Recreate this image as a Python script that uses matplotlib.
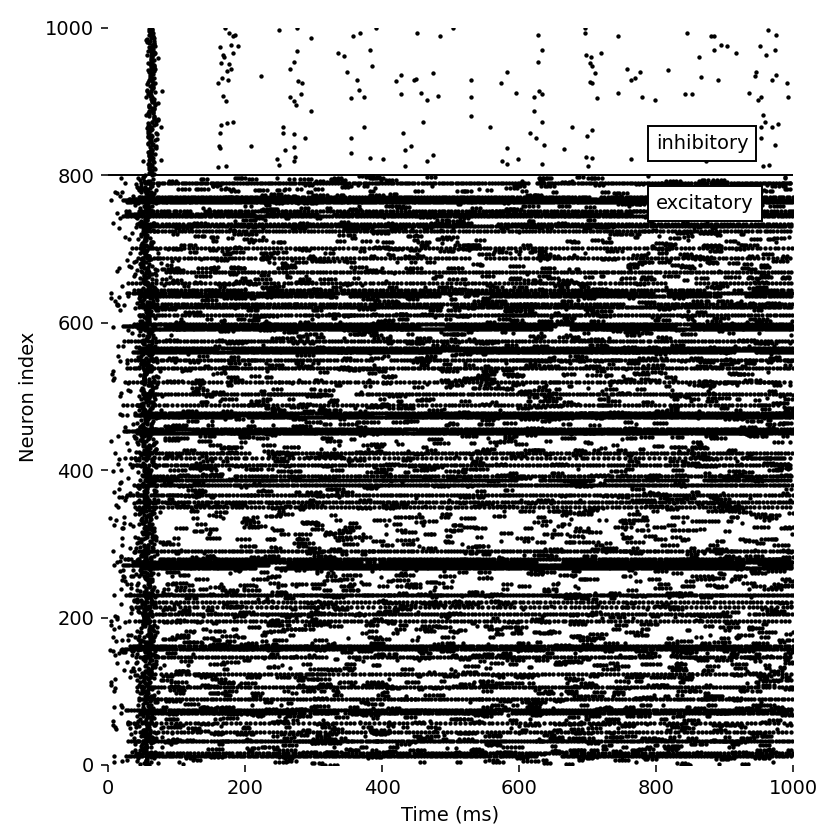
import numpy as np
import matplotlib.pyplot as plt

n_exc, n_inh = 800, 200
t_end = 1000

tonic_rows = [12, 16, 33, 45, 57, 70, 74, 90, 106, 124, 147, 158, 162, 195, 205, 214, 221, 231,
              267, 271, 275, 279, 291, 350, 357, 366, 380, 386, 392, 407, 416, 423, 450, 453, 456,
              472, 475, 478, 488, 504, 520, 538, 549, 561, 563, 566, 575, 592, 595, 598, 610, 622,
              626, 636, 640, 644, 654, 669, 688, 701, 725, 731, 734, 745, 748, 751, 764, 766, 768,
              770, 789]
tonic_isi = [4, 5, 4, 6, 7, 4, 4, 5, 5, 6, 5, 4, 4, 6, 5, 7, 6, 4,
             3, 3, 3, 4, 5, 6, 5, 5, 4, 4, 5, 5, 7, 5, 3, 3, 4,
             3, 3, 4, 6, 5, 6, 5, 5, 3, 3, 4, 5, 3, 3, 4, 5, 4,
             5, 4, 4, 5, 6, 5, 6, 6, 5, 4, 5, 4, 4, 5, 3, 3, 3,
             4, 4]

# sparse inhibitory spikes after the onset volley (time ms, neuron index)
inh_t = [171, 177, 183, 186, 180, 190, 163, 168, 169, 182, 165, 177, 180, 174, 160, 166, 175, 168,
         172, 165, 173, 183, 163, 162, 164, 160, 172, 79, 78, 77, 223, 209,
         250, 276, 296, 276, 272, 266, 278, 283, 282, 265, 272, 275, 296, 255, 256, 272, 288, 259,
         272, 273, 271, 246, 250,
         335, 344, 357, 368, 391, 383, 386, 349, 364, 367, 355, 373, 373, 354, 355, 382, 402,
         451, 484, 475, 427, 420, 446, 449, 428, 457, 465, 481, 460, 431, 433, 443, 474, 465, 433,
         503, 628, 634, 628, 530, 530, 530, 574, 582, 595, 622, 629, 634, 622, 634, 557, 616, 625,
         636, 582, 575, 582, 598, 634, 666, 678,
         697, 697, 720, 698, 705, 704, 706, 711, 704, 707, 714, 707, 699, 698, 706, 701,
         745, 745, 758, 763, 769, 776, 780, 799, 764, 791, 817, 838, 845, 843, 852, 866, 863,
         880, 885, 885, 895, 904, 916, 890, 873, 936, 944, 946, 952, 961, 973, 964, 975, 970, 975,
         991, 993, 949, 953, 956, 959, 953, 970, 978, 953, 974, 956, 965]
inh_i = [1000, 993, 989, 990, 977, 976, 974, 963, 960, 966, 952, 951, 945, 942, 925, 932, 929, 908,
         901, 869, 871, 873, 857, 840, 837, 812, 813, 915, 821, 866, 935, 840,
         997, 1000, 986, 969, 954, 944, 928, 925, 911, 907, 901, 896, 887, 866, 857, 856, 851, 835,
         838, 825, 819, 822, 814,
         966, 962, 989, 993, 1000, 970, 948, 940, 929, 916, 905, 907, 866, 851, 830, 824, 822,
         993, 989, 939, 936, 928, 929, 931, 910, 912, 902, 908, 873, 857, 835, 840, 828, 820, 813,
         1000, 991, 970, 954, 929, 906, 881, 925, 940, 912, 906, 915, 910, 887, 873, 866, 858, 851,
         841, 837, 819, 815, 822, 815, 836, 866,
         1000, 993, 966, 963, 960, 952, 948, 939, 927, 925, 905, 862, 854, 825, 823, 813,
         989, 912, 944, 930, 932, 940, 907, 902, 822, 828, 943, 865, 993, 910, 910, 934, 960,
         989, 989, 970, 977, 976, 966, 929, 820, 912, 935, 940, 975, 963, 970, 997, 990, 929, 936,
         925, 906, 902, 906, 882, 873, 865, 865, 870, 851, 841, 813, 814]

# population volley at the start (ms) and its spread
onset_exc, onset_inh = 57, 63
onset_sd_exc, onset_sd_inh = 8, 4
# short spike episodes per neuron for each block of 100 excitatory neurons
band_episodes = [5, 5, 4, 4, 4, 4, 4, 4]

rng = np.random.default_rng(7)
spk_t, spk_i = [], []


def add(times, idx):
    times = np.asarray(times, dtype=float)
    times = times[(times >= 0) & (times <= t_end)]
    spk_t.extend(times)
    spk_i.extend([idx] * len(times))


tonic = dict(zip(tonic_rows, tonic_isi))
for n in range(n_exc):
    # onset volley
    add(onset_exc + rng.normal(0, onset_sd_exc, rng.integers(1, 3)), n)
    # scattered early spikes
    add(rng.uniform(3, 45, rng.poisson(0.3 if n < 400 else 0.15)), n)
    if n in tonic:
        isi = tonic[n]
        t = rng.uniform(20, 55)
        times = []
        while t < t_end:
            times.append(t)
            t += isi * (1 + 0.15 * rng.standard_normal())
            if rng.random() < 0.004:
                t += rng.uniform(10, 40)
        add(times, n)
    else:
        for _ in range(rng.poisson(band_episodes[n // 100])):
            start = rng.uniform(75, t_end)
            k = rng.integers(1, 6)
            add(start + np.cumsum(rng.uniform(3.5, 6.5, k)) - 4, n)

for n in range(n_exc, n_exc + n_inh):
    add(onset_inh + rng.normal(0, onset_sd_inh, 1), n)
spk_t.extend(np.array(inh_t, dtype=float))
spk_i.extend(inh_i)

fig = plt.figure(figsize=(6, 6), dpi=140)
ax = fig.add_axes([0.1286, 0.0893, 0.8155, 0.8774])
ax.plot(spk_t, spk_i, '.', color='k', ms=2.5)
ax.axhline(800, color='k', lw=1)
for s in ax.spines.values():
    s.set_visible(False)
ax.set_xlim(0, t_end)
ax.set_ylim(0, 1000)
ax.set_xticks([0, 200, 400, 600, 800, 1000])
ax.set_yticks([0, 200, 400, 600, 800, 1000])
ax.set_xlabel('Time (ms)')
ax.set_ylabel('Neuron index')
box = dict(facecolor='white', edgecolor='black')
ax.text(800, 843, 'inhibitory', va='center', bbox=box)
ax.text(800, 762, 'excitatory', va='center', bbox=box)
fig.savefig('out.png')
